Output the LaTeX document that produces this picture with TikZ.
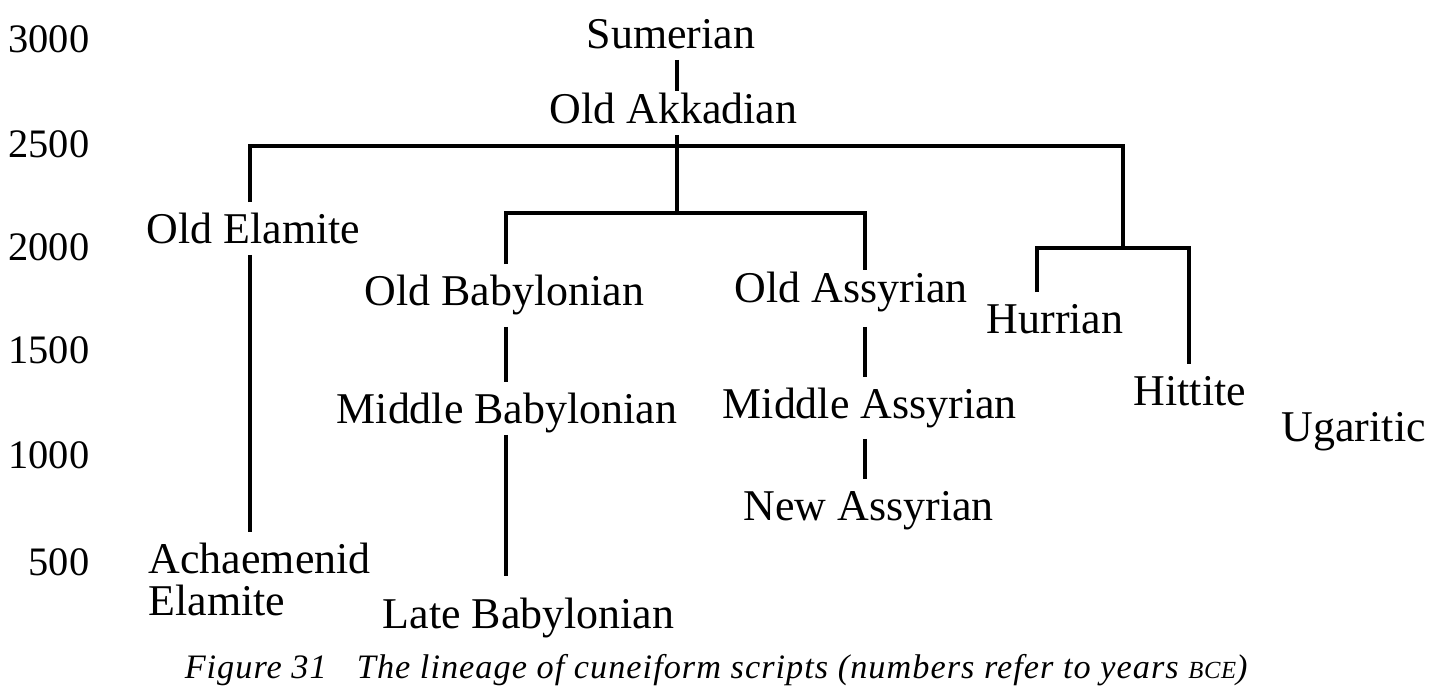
\documentclass[tikz,border=0pt]{standalone}
\usepackage{fontspec}
\setmainfont{Liberation Serif}
\newfontfamily\capfont{Liberation Serif}[LetterSpace=3]
\usepackage{tikz}
\usetikzlibrary{calc,positioning}
\tikzset{
	lineage/.style={
		x=0.2mm, y=-0.2mm,
		line width=2pt,
		script/.style={font=\fontsize{25}{24}\selectfont,
			inner xsep=0pt, inner ysep=5.7pt,
			text height=16.5pt, text depth=0pt, anchor=base west},
		year/.style={font=\fontsize{23}{24}\selectfont, inner sep=0pt, anchor=base east},
		caption/.style={font=\capfont\itshape\fontsize{19.5}{22}\selectfont,
			inner sep=0pt, anchor=base west}
		}
}

\begin{document}
\begin{tikzpicture}[lineage]
   \useasboundingbox (0,0) rectangle (1433,699);
   % years BCE
   \foreach \yr/\b in {3000/52,2500/157,2000/260,1500/363,1000/468,500/575}
      \node[year] (y\yr) at (91,\b) {\yr};
   % scripts
   \node[script] (sumerian)   at (585,48)  {Sumerian};
   \node[script] (akkadian)   at (548,123) {Old Akkadian};
   \node[script] (elamite)    at (145,243) {Old Elamite};
   \node[script] (oldbab)     at (363,305) {Old Babylonian};
   \node[script] (oldass)     at (733,302) {Old Assyrian};
   \node[script] (hurrian)    at (985,333) {Hurrian};
   \node[script] (midbab)     at (335,423) {Middle Babylonian};
   \node[script] (midass)     at (721,418) {Middle Assyrian};
   \node[script] (hittite)    at (1132,405) {Hittite};
   \node[script] (ugaritic)   at (1280,441) {Ugaritic};
   \node[script] (newass)     at (742,520) {New Assyrian};
   \node[script] (achaemenid) at (147,573) {Achaemenid};
   \node[script] (achelam)    at (147,615) {Elamite};
   \node[script] (latebab)    at (381,628) {Late Babylonian};
   \node[caption] (caption)   at (183,678)
      {Figure 31\hspace{0.6em} The lineage of cuneiform scripts (numbers refer to years {\fontsize{14}{14}\selectfont BCE})};
   % branch points
   \coordinate (trunk) at (677,146);
   \coordinate (mesop) at (677,213);
   \coordinate (anat)  at (1123,248);
   \coordinate (colE)  at (250,0);
   \coordinate (colB)  at (506,0);
   \coordinate (colA)  at (865,0);
   \coordinate (colH)  at (1037,0);
   \coordinate (colT)  at (1189,0);
   % lineage
   \draw[shorten >=-1.8mm] (sumerian.south -| trunk) -- (akkadian.north -| trunk);
   \draw (akkadian.south -| trunk) -- (mesop);
   \draw (elamite.north -| colE) |- (anat |- trunk) -- (anat);
   \draw (oldbab.north -| colB) |- (mesop) -| ($(oldass.north -| colA)+(0,9)$);
   \draw (hurrian.north -| colH) |- (anat) -| (hittite.north -| colT);
   \draw (elamite.south -| colE) -- (achaemenid.north -| colE);
   \draw[shorten <=2mm] (oldbab.south -| colB) -- (midbab.north -| colB);
   \draw[shorten >=2.2mm] (midbab.south -| colB) -- (latebab.north -| colB);
   \draw[shorten <=2.6mm] (oldass.south -| colA) -- (midass.north -| colA);
   \draw[shorten <=1.8mm] (midass.south -| colA) -- (newass.north -| colA);
\end{tikzpicture}
\end{document}
